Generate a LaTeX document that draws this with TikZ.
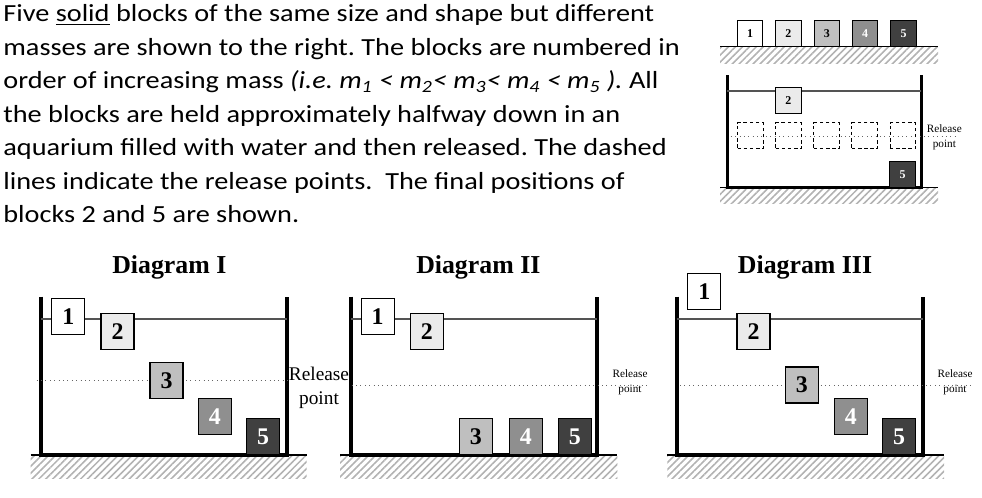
\documentclass[tikz,border=0pt]{standalone}
\usepackage{fontspec}
\setmainfont{Liberation Serif}
\newfontfamily\bodyfont[FakeStretch=1.15]{Carlito}
\usepackage{xcolor}
\usepackage{tikz}
\usetikzlibrary{patterns.meta, positioning}
\frenchspacing
\definecolor{massone}{gray}{1}
\definecolor{masstwo}{gray}{0.92}
\definecolor{massthree}{gray}{0.75}
\definecolor{massfour}{gray}{0.56}
\definecolor{massfive}{gray}{0.25}
\definecolor{waterline}{gray}{0.33}
\tikzstyle{block} = [rectangle, draw=black, line width=0.6pt, minimum width=0.66cm, minimum height=0.72cm, inner sep=0pt, font=\bfseries\fontsize{13.6}{14}\selectfont]
\tikzstyle{smallblock} = [block, minimum width=0.51cm, minimum height=0.52cm, font=\bfseries\fontsize{6.8}{8}\selectfont]
\tikzstyle{ghost} = [smallblock, dash pattern=on 2pt off 1.5pt, line width=0.5pt]
\tikzstyle{wall} = [line width=2.2pt, line join=miter]
\tikzstyle{water} = [line width=1.1pt, draw=waterline]
\tikzstyle{release} = [dotted, line width=0.5pt, draw=black!60]
\tikzstyle{floor} = [line width=0.7pt]
\tikzstyle{hatch} = [pattern={Lines[angle=45,distance=2.8pt,line width=0.9pt]}, pattern color=black!30]
\tikzstyle{title} = [anchor=base, inner sep=0pt, font=\bfseries\fontsize{14.7}{16}\selectfont]
\tikzstyle{textline} = [anchor=base west, inner sep=0pt, font=\bodyfont\fontsize{14}{16}\selectfont]
\tikzstyle{tag} = [align=center, inner sep=0pt, font=\fontsize{6.4}{8.5}\selectfont]
\tikzstyle{bigtag} = [tag, font=\fontsize{11}{13.6}\selectfont]

\begin{document}
\begin{tikzpicture}[x=0.02cm, y=-0.02cm]
                \useasboundingbox (0,0) rectangle (982,497);

% ---------------------------------------------
% Question text
% ---------------------------------------------
                \node (line1) [textline] at (3,21.7) {Five \underline{solid} blocks of the same size and shape but different};
                \node (line2) [textline] at (3,55.2) {masses are shown to the right. The blocks are numbered in};
                \node (line3) [textline] at (3,88.7) {order of increasing mass \textit{(i.e. m\textsubscript{1} < m\textsubscript{2}< m\textsubscript{3}< m\textsubscript{4} < m\textsubscript{5} ).} All};
                \node (line4) [textline] at (3,122.2) {the blocks are held approximately halfway down in an};
                \node (line5) [textline] at (3,155.7) {aquarium filled with water and then released. The dashed};
                \node (line6) [textline] at (3,189.2) {lines indicate the release points.~ The final positions of};
                \node (line7) [textline] at (3,222.7) {blocks 2 and 5 are shown.};

% ---------------------------------------------
% Shelf with the five blocks
% ---------------------------------------------
                \path[hatch] (720,47.3) rectangle (938,63.3);
                \draw[floor] (720,46.7) -- (938,46.7);
                \foreach \i/\c/\t in {1/massone/black, 2/masstwo/black, 3/massthree/black, 4/massfour/white, 5/massfive/white}
                    \node (shelf_\i) [smallblock, fill=\c, text=\t] at ({750+38.4*(\i-1)},33.7) {\i};

% ---------------------------------------------
% Small aquarium (release points)
% ---------------------------------------------
                \path[hatch] (720,188.5) rectangle (938,203);
                \draw[floor] (720,187.7) -- (938,187.7);
                \draw[wall, line width=1.7pt] (727.3,75) -- (727.3,187.7) -- (921,187.7) -- (921,75);
                \draw[water] (727.3,90.7) -- (921,90.7);
                \draw[release] (730.7,136) -- (958.3,136);
                \foreach \i in {1,...,5}
                    \node (start_\i) [ghost] at ({750.3+38.1*(\i-1)},135.8) {};
                \node (small_2) [smallblock, fill=masstwo] at (788.3,100.3) {2};
                \node (small_5) [smallblock, fill=massfive, text=white] at (902.7,174.5) {5};
                \node (tag_0) [tag] at (944.3,137) {Release\\point};

% ---------------------------------------------
% Diagram I
% ---------------------------------------------
                \node (title_1) [title] at (169.3,273.3) {Diagram I};
                \path[hatch] (30.7,456.5) rectangle (306.7,478);
                \draw[floor] (30.7,455) -- (306.7,455);
                \draw[wall] (41,296.7) -- (41,455) -- (286.7,455) -- (286.7,296.7);
                \draw[water] (41,319) -- (286.7,319);
                \draw[release] (36.7,380.3) -- (288,380.3);
                \node (d1_1) [block, fill=massone] at (68.3,316.3) {1};
                \node (d1_2) [block, fill=masstwo] at (117.5,331.2) {2};
                \node (d1_3) [block, fill=massthree] at (166.5,380.5) {3};
                \node (d1_4) [block, fill=massfour, text=white] at (214.8,416.3) {4};
                \node (d1_5) [block, fill=massfive, text=white] at (263,436.7) {5};
                \node (tag_1) [bigtag] at (319,388) {Release\\point};

% ---------------------------------------------
% Diagram II
% ---------------------------------------------
                \node (title_2) [title] at (478.3,273.3) {Diagram II};
                \path[hatch] (340,456.5) rectangle (617.3,478);
                \draw[floor] (340,455) -- (617.3,455);
                \draw[wall] (351,296.7) -- (351,455) -- (596.7,455) -- (596.7,296.7);
                \draw[water] (351,319) -- (596.7,319);
                \draw[release] (351.7,385.3) -- (648.3,385.3);
                \node (d2_1) [block, fill=massone] at (377.7,316.3) {1};
                \node (d2_2) [block, fill=masstwo] at (426.8,331.2) {2};
                \node (d2_3) [block, fill=massthree] at (475.8,436.3) {3};
                \node (d2_4) [block, fill=massfour, text=white, right=0.32cm of d2_3] {4};
                \node (d2_5) [block, fill=massfive, text=white, right=0.3cm of d2_4] {5};
                \node (tag_2) [tag] at (630,382) {Release\\point};

% ---------------------------------------------
% Diagram III
% ---------------------------------------------
                \node (title_3) [title] at (805,273.3) {Diagram III};
                \path[hatch] (667.3,456.5) rectangle (944,478);
                \draw[floor] (667.3,455) -- (944,455);
                \draw[wall] (676.7,296.7) -- (676.7,455) -- (922.7,455) -- (922.7,296.7);
                \draw[water] (676.7,319) -- (922.7,319);
                \draw[release] (680,385.3) -- (971.7,385.3);
                \node (d3_1) [block, fill=massone] at (704.3,291.3) {1};
                \node (d3_2) [block, fill=masstwo] at (753.5,331.3) {2};
                \node (d3_3) [block, fill=massthree] at (801.8,385) {3};
                \node (d3_4) [block, fill=massfour, text=white] at (850.8,416.7) {4};
                \node (d3_5) [block, fill=massfive, text=white] at (899.2,436.7) {5};
                \node (tag_3) [tag] at (955,382) {Release\\point};

            \end{tikzpicture}
\end{document}
